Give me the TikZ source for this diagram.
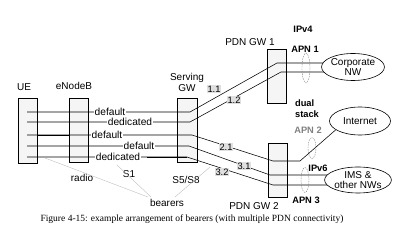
\documentclass[tikz,border=0pt]{standalone}
\usepackage{fontspec}
\setmainfont{Liberation Sans}
\newfontfamily\capfont{Liberation Serif}
\usetikzlibrary{shapes.geometric}
\begin{document}
\begin{tikzpicture}[x=1pt,y=-1pt,
  box/.style={draw, fill=gray!8, line width=0.7pt, inner sep=0pt},
  lbl/.style={font=\fontsize{10}{11}\selectfont, inner sep=0.5pt, align=center},
  blbl/.style={font=\bfseries\fontsize{9.3}{11.5}\selectfont, inner sep=0.5pt},
  bearer/.style={line width=0.55pt},
  heavy/.style={line width=0.95pt},
  onl/.style={fill=white, inner sep=0.8pt, font=\fontsize{10.2}{11}\selectfont},
  num/.style={fill=gray!25, inner sep=0.8pt, font=\fontsize{9.3}{10}\selectfont},
  net/.style={ellipse, draw, fill=white, line width=0.6pt, inner sep=0pt, align=center, font=\fontsize{10}{10.5}\selectfont},
  apn/.style={ellipse, draw=gray, dashed, line width=0.4pt, inner sep=0pt, dash pattern=on 1.5pt off 1pt},
  faint/.style={draw=gray!55, line width=0.35pt}]
\useasboundingbox (0,0) rectangle (400,251);

% boxes
\node[box, minimum width=19pt, minimum height=65pt] (ue) at (27.5,130.5) {};
\node[box, minimum width=19pt, minimum height=64pt] (enb) at (78.5,130) {};
\node[box, minimum width=20pt, minimum height=64pt] (sgw) at (187,130) {};
\node[box, minimum width=19pt, minimum height=54pt] (pgw1) at (276.5,76) {};
\node[box, minimum width=19pt, minimum height=54pt] (pgw2) at (277.5,170) {};

% coordinates
\coordinate (corpc) at (353,67);
\coordinate (imsc) at (358,180);
\node[net, minimum width=61pt, minimum height=28pt] (inet) at (360,121) {Internet};

\coordinate (a1) at (27,112); \coordinate (b1) at (190,112); \coordinate (c1) at (277,63);
\coordinate (a2) at (27,122); \coordinate (b2) at (190,122); \coordinate (c2) at (281,72);
\coordinate (a3) at (27,135); \coordinate (b3) at (192,135); \coordinate (c3) at (273,161); \coordinate (d3) at (300,161);
\coordinate (a4) at (27,146); \coordinate (b4) at (189,146); \coordinate (c4) at (270,175);
\coordinate (a5) at (27,157); \coordinate (b5) at (187,157); \coordinate (c5) at (273,185);

% bearer lines
\draw[bearer] (a1) -- (b1) -- (c1) -- (c1 -| corpc);
\draw[bearer] (a2) -- (b2) -- (c2) -- (c2 -| corpc);
\draw[bearer] (a3) -- (b3) -- (c3) -- (d3) -- (inet.200);
\draw[bearer] (a4) -- (b4) -- (c4) -- (c4 -| imsc);
\draw[bearer] (a5) -- (b5) -- (c5) -- (c5 -| imsc);
\draw[heavy] (ue.east |- a3) -- (enb.west |- a3);
\draw[heavy] (147,157) -- (b5);

% network ellipses
\node[net, minimum width=60pt, minimum height=27pt] (corp) at (corpc) {Corporate\\NW};
\node[net, minimum width=62pt, minimum height=26pt] (ims) at (imsc) {IMS \&\\other NWs};

% APN ellipses
\node[apn, minimum width=8pt, minimum height=30pt] (apn1e) at (306,68) {};
\node[apn, minimum width=8pt, minimum height=21pt] (apn2e) at (312,148) {};
\node[apn, minimum width=8pt, minimum height=25pt] (apn3e) at (305,180) {};

% labels on bearers
\node[onl] (l1) at (110,112) {default};
\node[onl] (l2) at (130,122) {dedicated};
\node[onl] (l3) at (107,135) {default};
\node[onl] (l4) at (139,146) {default};
\node[onl] (l5) at (118,157) {dedicated};

\node[num] (n11) at (214,89) {1.1};
\node[num] (n12) at (234,100) {1.2};
\node[num] (n21) at (226,147) {2.1};
\node[num] (n31) at (244,166) {3.1};
\node[num] (n32) at (222,172) {3.2};

% element labels
\node[lbl] (tue) at (24,87) {UE};
\node[lbl] (tenb) at (74,86) {eNodeB};
\node[lbl] (tsgw) at (187,82.5) {Serving\\GW};
\node[lbl] (tpgw1) at (250,42) {PDN GW 1};
\node[lbl] (tpgw2) at (254,206) {PDN GW 2};

\node[blbl] (ipv4) at (303,29) {IPv4};
\node[blbl] (apn1) at (305,49) {APN 1};
\node[blbl, align=left] (dual) at (307,108.5) {dual\\stack};
\node[blbl, text=gray] (apn2) at (308,130) {APN 2};
\node[blbl] (ipv6) at (318,168) {IPv6};
\node[blbl] (apn3) at (306,200) {APN 3};

\node[lbl] (radio) at (82,178) {radio};
\node[lbl] (s1) at (129,174.5) {S1};
\node[lbl] (s5) at (186,180) {S5/S8};
\node[lbl] (bearers) at (167,203) {bearers};

\coordinate (g1) at (45,158);
\coordinate (g2) at (117,165);
\coordinate (g3) at (210,167);
\draw[faint] (g1) -- (148,197);
\draw[faint] (g2) -- (151,197);
\draw[faint] (g3) -- (175,197);

\node[font=\capfont\fontsize{9.5}{11}\selectfont, inner sep=0pt] (cap) at (192,219) {Figure 4-15: example arrangement of bearers (with multiple PDN connectivity)};
\end{tikzpicture}
\end{document}
